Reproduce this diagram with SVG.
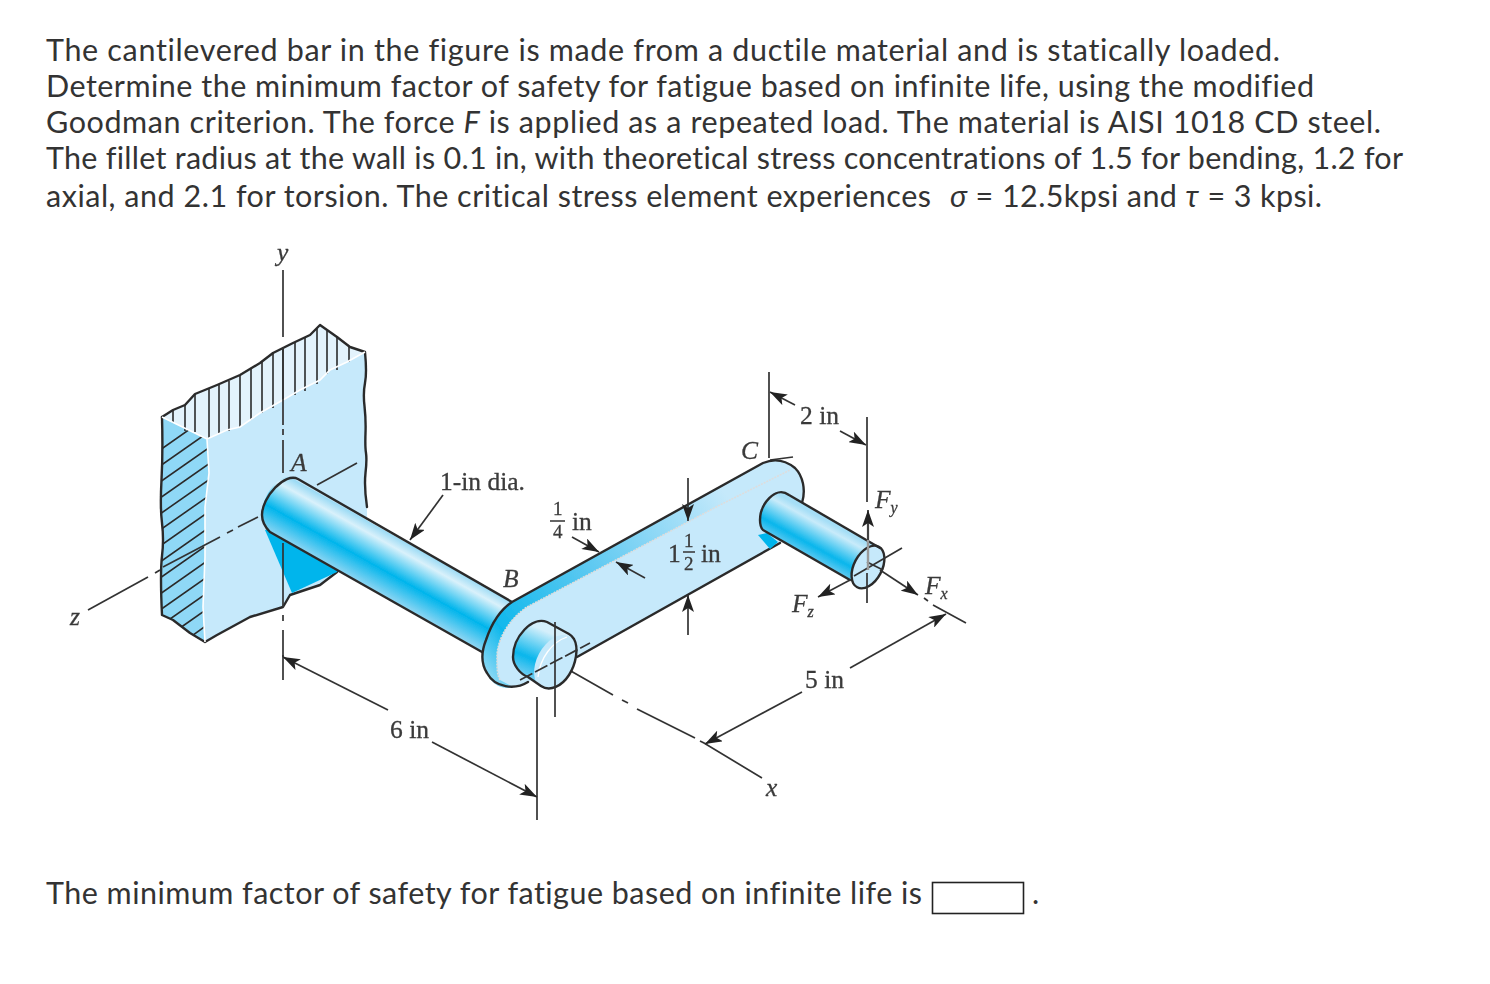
<svg xmlns="http://www.w3.org/2000/svg" width="1490" height="984" viewBox="0 0 1490 984">
<style>
.q{font-family:"Lato","Open Sans",sans-serif;font-size:30.5px;fill:#333;font-variant-ligatures:none}
.qi{font-style:italic}
.s{font-family:"Liberation Serif",serif;font-size:25.5px;fill:#3a3a3a;stroke:#3a3a3a;stroke-width:.3}
.f{font-size:19px}
.i{font-style:italic}
.o{fill:none;stroke:#2b2b2b;stroke-width:2.4;stroke-linejoin:round;stroke-linecap:round}
.l{fill:none;stroke:#333;stroke-width:1.7}
.a{marker-end:url(#ah)}
.h{stroke:#2b2b2b;stroke-width:1.6;fill:none}
</style>
<defs>
<filter id="soft" x="-5%" y="-5%" width="110%" height="110%"><feGaussianBlur stdDeviation="0.5"/></filter>
<marker id="ah" markerUnits="userSpaceOnUse" markerWidth="18" markerHeight="12" refX="17" refY="6" orient="auto"><path d="M0 0L17 6L0 12L4 6Z" fill="#222"/></marker>
<linearGradient id="rod" gradientUnits="userSpaceOnUse" x1="400" y1="537" x2="371" y2="589">
<stop offset="0" stop-color="#8fd6f3"/><stop offset=".2" stop-color="#d9f1fb"/><stop offset=".62" stop-color="#00b5ec"/><stop offset="1" stop-color="#8fd6f3"/></linearGradient>
<linearGradient id="pinR" gradientUnits="userSpaceOnUse" x1="810" y1="512" x2="789" y2="550">
<stop offset="0" stop-color="#a5def6"/><stop offset=".15" stop-color="#c8ebfa"/><stop offset=".65" stop-color="#08b6ec"/><stop offset="1" stop-color="#7ed0f2"/></linearGradient>
<linearGradient id="pinB" gradientUnits="userSpaceOnUse" x1="538" y1="628" x2="518" y2="675">
<stop offset="0" stop-color="#d4effb"/><stop offset=".6" stop-color="#08b6ec"/><stop offset="1" stop-color="#7ed0f2"/></linearGradient>
<linearGradient id="edge" gradientUnits="userSpaceOnUse" x1="490" y1="685" x2="730" y2="500">
<stop offset="0" stop-color="#9adcf6"/><stop offset=".14" stop-color="#10b8ec"/><stop offset=".5" stop-color="#5ec9f1"/><stop offset="1" stop-color="#c5e9fb"/></linearGradient>
<clipPath id="side"><path d="M162 417L207 439L209 473L205 507L205 557L203 607L205 642L190 633L173 620L162 615L160 573L164 540L160 507L163 453Z"/></clipPath>
</defs>

<g id="question">
<text class="q" x="46" y="61" textLength="1234">The cantilevered bar in the figure is made from a ductile material and is statically loaded.</text>
<text class="q" x="46" y="97" textLength="1268">Determine the minimum factor of safety for fatigue based on infinite life, using the modified</text>
<text class="q" x="46" y="133" textLength="1335">Goodman criterion. The force <tspan class="qi">F</tspan> is applied as a repeated load. The material is AISI 1018 CD steel.</text>
<text class="q" x="46" y="169" textLength="1357">The fillet radius at the wall is 0.1 in, with theoretical stress concentrations of 1.5 for bending, 1.2 for</text>
<text class="q" x="46" y="207" textLength="885">axial, and 2.1 for torsion. The critical stress element experiences</text>
<text class="q" x="950" y="207" textLength="372"><tspan class="qi">σ</tspan> = 12.5kpsi and <tspan class="qi">τ</tspan> = 3 kpsi.</text>
<text class="q" x="46" y="904" textLength="876">The minimum factor of safety for fatigue based on infinite life is</text>
<rect x="932.5" y="882.5" width="91" height="31" fill="#fff" stroke="#222" stroke-width="1.6"/>
<text class="q" x="1032" y="904">.</text>
</g>

<g filter="url(#soft)">
<g id="wall">
<path d="M162 417L173 410L185 405L195 394L217 385L240 375L260 363L273 353L293 343L310 335L320 325L337 337L350 347L365 352L347 362L330 370L320 380L300 390L283 400L260 413L240 427L227 430L207 439Z" fill="#e3f3fc"/>
<path d="M207 439L227 430L240 427L260 413L283 400L300 390L320 380L330 370L347 362L365 352L367 373L363 393L366 420L365 447L367 460L364 487L367 507L367 560L337 572L320 585L290 595L283 607L250 617L217 635L205 642L203 607L205 557L205 507L209 473Z" fill="#c6e9fb"/>
<path d="M162 417L207 439L209 473L205 507L205 557L203 607L205 642L190 633L173 620L162 615L160 573L164 540L160 507L163 453Z" fill="#8fd8f6"/>
<g clip-path="url(#side)" class="h">
<path d="M160 450L210 415M160 466L210 431M160 482L210 447M160 498L210 463M160 514L210 479M160 530L210 495M160 546L210 511M160 562L210 527M160 578L210 543M160 594L210 559M160 610L210 575M160 626L210 591M170 635L210 607M182 643L210 623"/>
</g>
<path class="h" d="M173 410V423M185 405V431M195 394V432M209 389V438M219 385V433M229 381V431M240 375V427M251 369V420M262 362V413M273 353V408M283 348V401M295 342V395M305 337V391M317 328V384M327 331V374M337 337V370M349 346V362"/>
<path class="o" d="M162 417L173 410L185 405L195 394L217 385L240 375L260 363L273 353L293 343L310 335L320 325L337 337L350 347L365 352Q367 373 365 383Q363 393 364.5 406Q366 420 365.500 433Q365 447 366 453Q367 460 365.500 473Q364 487 367 507"/>
<path class="o" d="M162 417Q163 453 161.500 480Q160 507 162 523Q164 540 162 556Q160 573 162 615L173 620L190 633L205 642L217 635L250 617L283 607L290 595L320 585L337 572"/>
<path d="M162 417L207 439L209 473L205 507L205 557L203 607L205 642M207 439L227 430L240 427L260 413L283 400L300 390L320 380L330 370L347 362L365 352" fill="none" stroke="#fff" stroke-width="1.6"/>
<path d="M265 530L292 593L337 572L345 550L280 525Z" fill="#00b5ec"/>
</g>

<g id="axes" class="l">
<path d="M283 270V337M283 347V425M283 429V435M283 440V473M283 543V607M283 615V621M283 630V657"/>
<path d="M88 610L148 577M155 573L160 570M163 567L220 537M227 533L233 530M238 527L258 517M317 485L357 463"/>
<path d="M555 662L613 695M622 700L628 703M637 709L695 738M700 741L704 743L762 778"/>
<path d="M770 460L793 457M715 498L747 482M754 478L758 476M765 472L780 463"/>
</g>

<g id="rod-AB">
<path d="M512 602L290 477C276 476 262 497 262 515C262 522 265 527 270 532L482 652Z" fill="url(#rod)"/>
<path class="o" d="M512 602L298 479C285 472 262 497 262 515C262 522 265 527 270 532L482 652"/>
</g>

<g id="plate">
<path d="M512 602L763 463C775 458 785 460 795 468C803 476 806 490 802 503L780 543L577 657L528 682C515 690 495 688 487 673C480 662 482 650 486 640C492 622 500 610 512 602Z" fill="#c6e9fb"/>
<path d="M512 602L763 463C770 460 780 460 790 470L720 505L527 607C508 620 497 640 497 657C497 668 498 675 500 680L513 687C500 690 492 684 487 673C480 662 482 650 486 640C492 622 500 610 512 602Z" fill="url(#edge)"/>
<path d="M500 680C497 675 497 668 497 657C497 640 508 620 527 607L720 505L790 470" fill="none" stroke="#ddd" stroke-width="1.6" stroke-dasharray="2 1"/>
<path class="o" d="M528 682C515 690 495 688 487 673C480 662 482 650 486 640C492 622 500 610 512 602L763 463C775 458 785 460 795 468C803 476 806 490 802 503M780 543L577 657"/>
</g>

<g id="pin-B">
<path d="M569 634L547 622C532 616 513 637 513 657C513 665 520 674 528 677L543 688L560 680Z" fill="url(#pinB)"/>
<ellipse cx="555" cy="662" rx="29" ry="18" transform="rotate(-62 555 662)" fill="#c6e9fb"/>
<path d="M538 677C540 658 552 642 567 637" fill="none" stroke="#fff" stroke-width="1.3"/>
<path class="o" d="M569 634L547 622C532 616 513 637 513 657C513 665 520 674 528 677L541 686C550 692 562 686 569 675C576 664 579 648 574 639C572 636 571 635 569 634"/>
<path class="l" d="M520 680L590 643" stroke-dasharray="14 3"/>
<path class="l" d="M555 622V717"/>
</g>

<g id="pin-C">
<path d="M767 533L778 542L770 549L758 535Z" fill="#00b5ec"/>
<path d="M783 492C772 488 760 505 760 520C760 524 761 528 763 530L850 580L880 548Z" fill="url(#pinR)"/>
<ellipse cx="868" cy="567" rx="23" ry="14" transform="rotate(-62 868 567)" fill="#c6e9fb"/>
<path class="o" d="M880 548L789 495C775 485 760 505 760 520C760 524 761 528 763 530L850 580"/>
<ellipse class="o" cx="868" cy="567" rx="23" ry="14" transform="rotate(-62 868 567)"/>
<path class="l" d="M854 576L902 548M867 562L883 570M867 573V603"/>
<path d="M868 570V514" stroke="#999" stroke-width="2.4"/>
</g>

<g id="connectors" class="l">
<path class="a" d="M443 495L410 540"/>
<path class="a" d="M572 537L599 552"/>
<path class="a" d="M645 578L616 562"/>
<path class="a" d="M688 478V521"/>
<path class="a" d="M688 635V595"/>
<path d="M769 372V458M867 417V502"/>
<path class="a" d="M795 405L770 392"/>
<path class="a" d="M840 431L866 445"/>
<path class="a" d="M868 540V510"/>
<path class="a" d="M850 580L818 597"/>
<path class="a" d="M880 570L918 595"/>
<path d="M924 598L928 601M933 605L966 623"/>
<path class="a" d="M850 668L946 614"/>
<path class="a" d="M802 692L705 744"/>
<path d="M283 655V680M537 697V820"/>
<path class="a" d="M388 710L283 657"/>
<path class="a" d="M432 742L537 797"/>
</g>

<g id="labels">
<text class="s i" x="277" y="261">y</text>
<text class="s i" x="70" y="625">z</text>
<text class="s i" x="291" y="471">A</text>
<text class="s i" x="503" y="587">B</text>
<text class="s i" x="741" y="459">C</text>
<text class="s i" x="766" y="796">x</text>
<text class="s" x="440" y="490">1-in dia.</text>
<text class="s" x="572" y="530">in</text>
<text class="s f" x="553" y="515">1</text>
<path d="M550 521H565" stroke="#333" stroke-width="1.500"/>
<text class="s f" x="553" y="538">4</text>
<text class="s" x="668" y="562">1</text>
<text class="s f" x="684" y="547">1</text>
<path d="M683 552H695" stroke="#333" stroke-width="1.500"/>
<text class="s f" x="684" y="570">2</text>
<text class="s" x="701" y="562">in</text>
<text class="s" x="800" y="424">2 in</text>
<text class="s" x="805" y="688">5 in</text>
<text class="s" x="390" y="738">6 in</text>
<text class="s i" x="875" y="508">F<tspan font-size="16" dy="5">y</tspan></text>
<text class="s i" x="792" y="612">F<tspan font-size="16" dy="5">z</tspan></text>
<text class="s i" x="925" y="594">F<tspan font-size="16" dy="5">x</tspan></text>
</g>
</g>
</svg>
